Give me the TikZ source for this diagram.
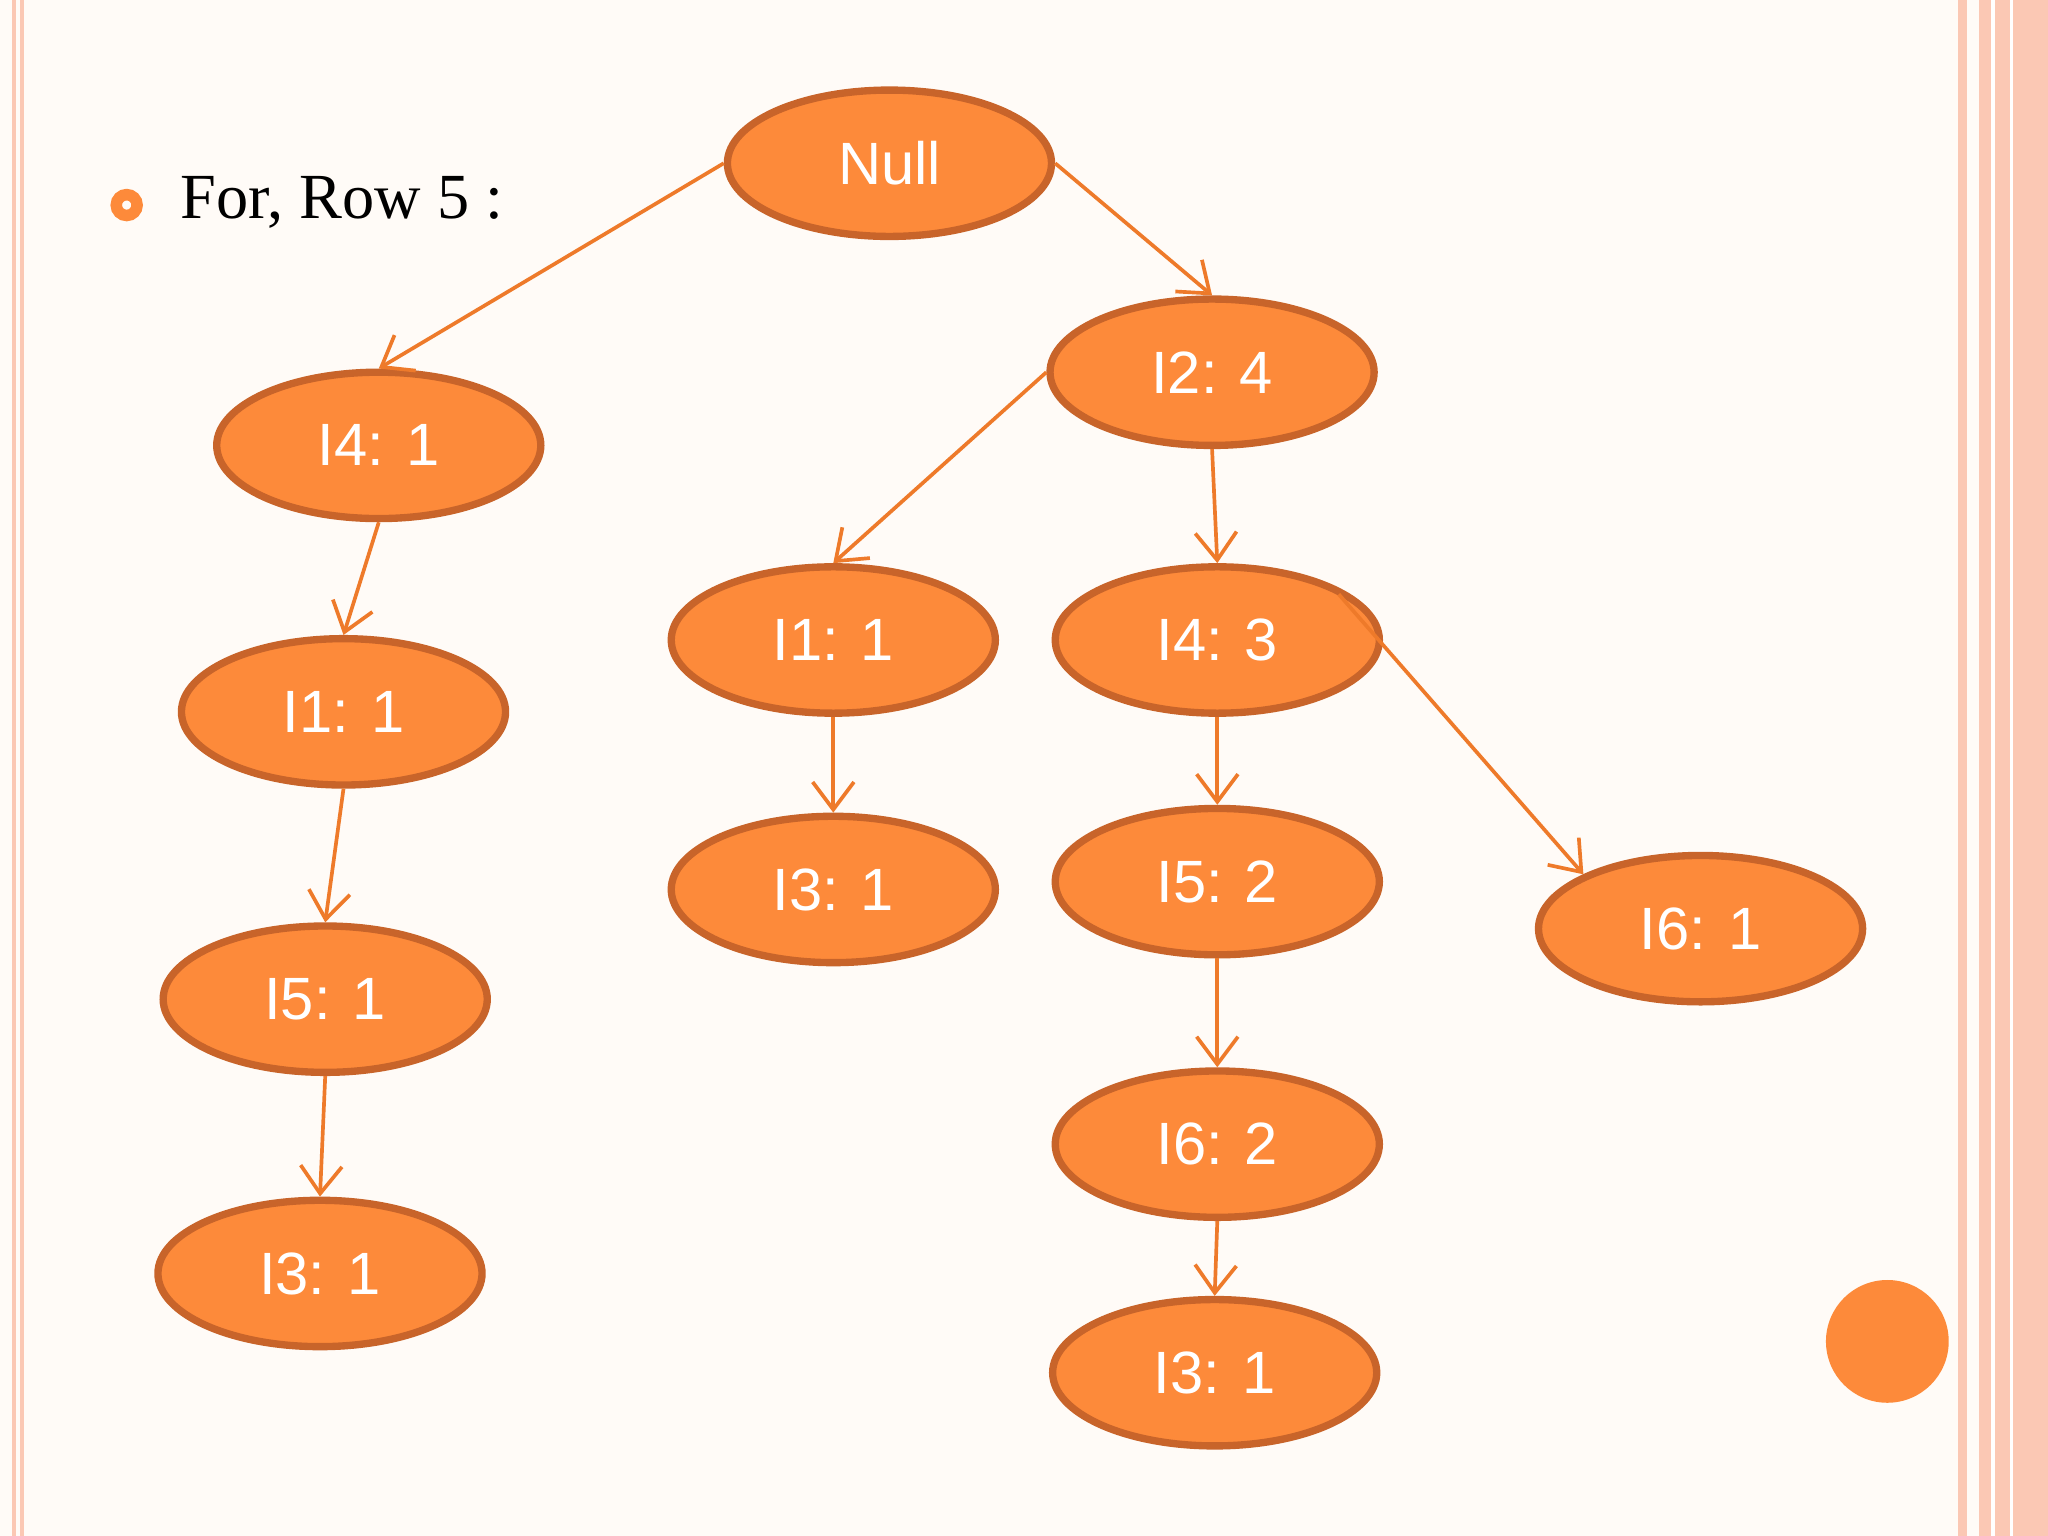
\documentclass[tikz,border=0pt]{standalone}
\usepackage{fontspec}
\setmainfont{Liberation Serif}
\newfontfamily\nodefont{Liberation Sans}
\usetikzlibrary{shapes.geometric,arrows.meta}
\definecolor{ofill}{HTML}{FD8A3A}
\definecolor{oline}{HTML}{C8642A}
\definecolor{arr}{HTML}{EE7A2A}
\definecolor{pinkb}{HTML}{FBC8B4}
\begin{document}
\begin{tikzpicture}[x=0.01cm,y=-0.01cm,
 item/.style={ellipse,draw=oline,line width=1.6pt,fill=ofill,minimum width=2.48cm,minimum height=1.12cm,inner sep=0pt,text=white,font=\nodefont\fontsize{13}{13}\selectfont},
 link/.style={draw=arr,line width=0.8pt,-{Straight Barb[length=6pt,width=9pt]}}]
\fill[white!97!orange] (0,0) rectangle (1568,1176);
\useasboundingbox (0,0) rectangle (1568,1176);
% borders
\fill[pinkb] (9,0) rectangle (12,1176);
\fill[pinkb] (15,0) rectangle (18,1176);
\fill[pinkb] (1499,0) rectangle (1506,1176);
\fill[pinkb] (1515,0) rectangle (1568,1176);
\draw[white,line width=1pt] (1526,0) -- (1526,1176);
\draw[white,line width=0.6pt] (1540,0) -- (1540,1176);
% bullet and title
\draw[ofill,line width=2.5pt] (97,157) circle (8);
\node[anchor=west,font=\fontsize{14}{14}\selectfont] (title) at (126,155) {For, Row 5 :};
% nodes
\node[item] (null) at (681,125) {Null};
\node[item] (i24) at (928,285) {I2: 4};
\node[item] (i41) at (290,341) {I4: 1};
\node[item] (i11a) at (263,545) {I1: 1};
\node[item] (i51) at (249,765) {I5: 1};
\node[item] (i31a) at (245,975) {I3: 1};
\node[item] (i11b) at (638,490) {I1: 1};
\node[item] (i31b) at (638,681) {I3: 1};
\node[item] (i43) at (932,490) {I4: 3};
\node[item] (i52) at (932,675) {I5: 2};
\node[item] (i62) at (932,876) {I6: 2};
\node[item] (i31c) at (930,1051) {I3: 1};
\node[item] (i61) at (1302,711) {I6: 1};
\fill[ofill] (1445,1027) circle (47);
\coordinate (e43) at (1025,455);
% links
\draw[link] (null.west) -- (i41.north);
\draw[link] (null.east) -- (i24.north);
\draw[link] (i24.west) -- (i11b.north);
\draw[link] (i24.south) -- (i43.north);
\draw[link] (e43) -- (i61.north west);
\draw[link] (i41.south) -- (i11a.north);
\draw[link] (i11a.south) -- (i51.north);
\draw[link] (i51.south) -- (i31a.north);
\draw[link] (i11b.south) -- (i31b.north);
\draw[link] (i43.south) -- (i52.north);
\draw[link] (i52.south) -- (i62.north);
\draw[link] (i62.south) -- (i31c.north);
\end{tikzpicture}
\end{document}
